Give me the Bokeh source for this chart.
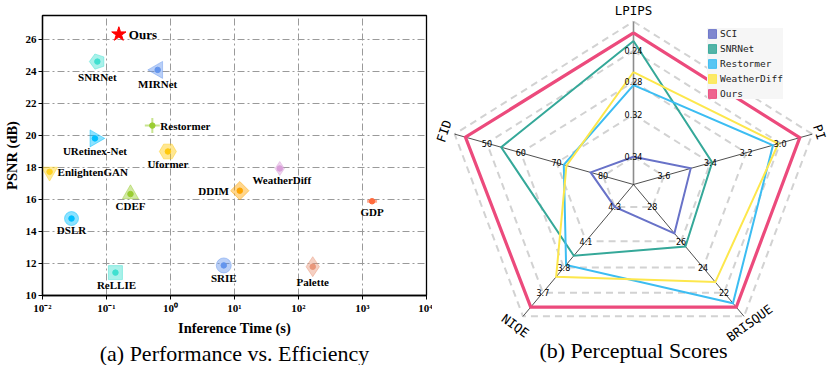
import math
import numpy as np
from bokeh.plotting import figure
from bokeh.layouts import row, column
from bokeh.models import Range1d, FixedTicker, Legend, LegendItem, ColumnDataSource, Title
from bokeh.core.properties import value
from bokeh.embed import file_html
from bokeh.resources import INLINE

# ---------------- data: (a) Performance vs. Efficiency ----------------
methods = ["Ours", "SNRNet", "MIRNet", "Restormer", "URetinex-Net", "Uformer",
           "EnlightenGAN", "WeatherDiff", "DDIM", "CDEF", "GDP", "DSLR",
           "ReLLIE", "SRIE", "Palette"]
infer_time = [0.156, 0.072, 0.63, 0.52, 0.066, 0.91,
              0.0129, 51.0, 12.1, 0.237, 1410.0, 0.0284,
              0.138, 6.8, 167.0]
psnr = [26.33, 24.62, 24.1, 20.62, 19.82, 19.0,
        17.73, 17.94, 16.55, 16.34, 15.89, 14.81,
        11.43, 11.88, 11.8]
x_ticks = [1e-2, 1e-1, 1e0, 1e1, 1e2, 1e3, 1e4]
x_tick_labels = ["10\u207b\u00b2", "10\u207b\u00b9", "10\u2070", "10\u00b9", "10\u00b2", "10\u00b3", "10\u2074"]
y_ticks = [10, 12, 14, 16, 18, 20, 22, 24, 26]

# ---------------- data: (b) Perceptual Scores ----------------
metrics = ["LPIPS", "PI", "BRISQUE", "NIQE", "FID"]
ring_levels = [0.17, 0.43, 0.63, 0.82, 1.0]
lpips_ticks = ["0.34", "0.32", "0.28", "0.24"]
pi_ticks = ["3.6", "3.4", "3.2", "3.0"]
brisque_ticks = ["28", "26", "24", "22"]
niqe_ticks = ["4.3", "4.1", "3.8", "3.7"]
fid_ticks = ["80", "70", "60", "50"]
radar_methods = ["SCI", "SNRNet", "Restormer", "WeatherDiff", "Ours"]
# normalized scores (radius, outer ring = 1) on LPIPS, PI, BRISQUE, NIQE, FID
sci_scores = [0.17, 0.32, 0.37, 0.17, 0.24]
snrnet_scores = [0.88, 0.44, 0.47, 0.54, 0.74]
restormer_scores = [0.61, 0.78, 0.90, 0.61, 0.39]
weatherdiff_scores = [0.69, 0.81, 0.74, 0.70, 0.375]
ours_scores = [0.93, 0.93, 0.93, 0.93, 0.94]

# ================= panel (a) =================
SERIF = "Liberation Serif"
p1 = figure(width=432, height=365, x_axis_type="log",
            x_range=Range1d(1e-2, 1e4), y_range=Range1d(10, 27.5),
            output_backend="svg", toolbar_location=None,
            min_border_left=42, min_border_right=6, min_border_top=15, min_border_bottom=65)
p1.background_fill_color = "white"
p1.outline_line_color = "black"
p1.outline_line_width = 1.3
p1.outline_line_alpha = 1

p1.xaxis.ticker = FixedTicker(ticks=x_ticks)
p1.xaxis.major_label_overrides = {float(t): s for t, s in zip(x_ticks, x_tick_labels)}
p1.yaxis.ticker = FixedTicker(ticks=y_ticks)
for ax in (p1.xaxis, p1.yaxis):
    ax.minor_tick_line_color = None
    ax.major_tick_out = 4
    ax.major_tick_in = 0
    ax.major_tick_line_color = "black"
    ax.axis_line_color = "black"
    ax.axis_line_width = 1.3
    ax.major_label_text_font = SERIF
    ax.major_label_text_font_style = "bold"
    ax.major_label_text_font_size = "11px"
    ax.major_label_text_color = "black"
    ax.axis_label_text_font = SERIF
    ax.axis_label_text_font_style = "bold"
    ax.axis_label_text_font_size = "14.5px"
    ax.axis_label_text_color = "black"
    ax.axis_label_standoff = 3
    ax.major_label_standoff = 2
p1.xaxis.axis_label = "Inference Time (s)"
p1.yaxis.axis_label = "PSNR (dB)"
p1.grid.grid_line_color = "#9a9a9a"
p1.grid.grid_line_dash = "7 3 2 3"
p1.grid.grid_line_width = 1

marker_style = {
    "Ours": ("star", 15, "red", 0),
    "SNRNet": ("pentagon", 8, "#40E0D0", 0),
    "MIRNet": ("triangle", 17, "#6495ED", math.pi / 2),
    "Restormer": ("cross", 15, "#9ACD32", 0),
    "URetinex-Net": ("triangle", 17, "#00BFFF", -math.pi / 2),
    "Uformer": ("hex", 17, "#FFC90E", 0),
    "EnlightenGAN": ("inverted_triangle", 16, "#FFD21F", 0),
    "WeatherDiff": ("diamond", 14, "#DA9FDA", 0),
    "DDIM": ("square", 13, "#FFA500", math.pi / 4),
    "CDEF": ("triangle", 16, "#9ACD32", 0),
    "GDP": ("dash", 10, "#FF6A3D", 0),
    "DSLR": ("circle", 14, "#00BFFF", 0),
    "ReLLIE": ("square", 14, "#40E0D0", 0),
    "SRIE": ("circle", 15, "#6495ED", 0),
    "Palette": ("diamond", 20, "#E9967A", 0),
}
for name, t, v in zip(methods, infer_time, psnr):
    mk, sz, col, ang = marker_style[name]
    if name == "Ours":
        p1.scatter([t], [v], marker="star", size=sz, fill_color=col, line_color=col)
        continue
    if mk == "pentagon":
        done = False
        if hasattr(p1, "ngon"):
            try:
                p1.ngon(x=[t], y=[v], radius=sz, radius_units="screen", n=5, angle=math.pi / 2,
                        fill_color=col, fill_alpha=0.45, line_color=col, line_alpha=0.45)
                done = True
            except Exception:
                done = False
        if not done:
            p1.scatter([t], [v], marker="hex", size=16, fill_color=col, fill_alpha=0.45,
                       line_color=col, line_alpha=0.45)
    elif mk in ("cross", "dash"):
        p1.scatter([t], [v], marker=mk, size=sz, line_color=col, line_alpha=0.55,
                   line_width=2 if mk == "cross" else 3, angle=ang)
    else:
        p1.scatter([t], [v], marker=mk, size=sz, angle=ang, fill_color=col, fill_alpha=0.45,
                   line_color=col, line_alpha=0.45)
    p1.scatter([t], [v], marker="circle", size=5.5, fill_color=col, line_color=col)

# label placement (screen offsets)
placement = {
    "Ours": ("right", 10, 0), "SNRNet": ("below", 0, 15), "MIRNet": ("below", 0, 14),
    "Restormer": ("right", 8, 0), "URetinex-Net": ("below", 0, 13), "Uformer": ("below", 0, 12),
    "EnlightenGAN": ("right", 8, 0), "WeatherDiff": ("below", 2, 12), "DDIM": ("left", -11, 0),
    "CDEF": ("below", 0, 12), "GDP": ("below", 0, 11), "DSLR": ("below", 0, 11),
    "ReLLIE": ("below", 1, 12), "SRIE": ("below", 0, 13), "Palette": ("below", 0, 15),
}
groups = {}
for name, t, v in zip(methods, infer_time, psnr):
    kind, dx, dy = placement[name]
    big = name == "Ours"
    g = groups.setdefault((kind, big), dict(x=[], y=[], text=[], dx=[], dy=[]))
    g["x"].append(t); g["y"].append(v); g["text"].append(name); g["dx"].append(dx); g["dy"].append(dy)
align_of = {"right": "left", "left": "right", "below": "center"}
for (kind, big), g in groups.items():
    src = ColumnDataSource(g)
    p1.text(x="x", y="y", text="text", source=src, x_offset="dx", y_offset="dy",
            text_align=align_of[kind], text_baseline="middle",
            text_font=value(SERIF), text_font_style="bold",
            text_font_size="13px" if big else "11px", text_color="black")

p1.add_layout(Title(text="(a) Performance vs. Efficiency", align="center",
                    text_font=SERIF, text_font_size="22px", text_font_style="normal",
                    text_color="black", standoff=0, offset=0), "below")

# ================= panel (b) =================
W2, H2 = 399, 365
RX, RY = 188.0, 163.0
CXP, CYP = 201.0, 184.0
p2 = figure(width=W2, height=H2, x_range=Range1d(-CXP / RX, (W2 - CXP) / RX),
            y_range=Range1d(-(H2 - CYP) / RY, CYP / RY),
            output_backend="svg", toolbar_location=None, min_border=0,
            x_axis_location=None, y_axis_location=None)
p2.grid.visible = False
p2.outline_line_color = None

theta = [math.radians(a) for a in (90, 18, -54, -126, 162)]
cs = [math.cos(a) for a in theta]
sn = [math.sin(a) for a in theta]

for lvl in ring_levels:
    xs = [lvl * c for c in cs] + [lvl * cs[0]]
    ys = [lvl * s for s in sn] + [lvl * sn[0]]
    p2.line(xs, ys, line_color="#d2d2d2", line_width=2, line_dash="7 5")

for i, m in enumerate(metrics):
    if m == "LPIPS":
        p2.line([0, cs[i]], [0, sn[i]], line_color="#8c8c8c", line_width=1.6)
    else:
        p2.line([0, cs[i]], [0, sn[i]], line_color="#222222", line_width=0.8)

radar_colors = ["#6872C8", "#35A899", "#3CBDF2", "#FDE74C", "#EC4A7C"]
radar_widths = [2, 2, 2, 2, 3.2]
all_scores = [sci_scores, snrnet_scores, restormer_scores, weatherdiff_scores, ours_scores]
for sc, col, lw in zip(all_scores, radar_colors, radar_widths):
    xs = [r * c for r, c in zip(sc, cs)] + [sc[0] * cs[0]]
    ys = [r * s for r, s in zip(sc, sn)] + [sc[0] * sn[0]]
    p2.line(xs, ys, line_color=col, line_width=lw, line_join="miter")

tick_sets = [lpips_ticks, pi_ticks, brisque_ticks, niqe_ticks, fid_ticks]
tx, ty, tt = [], [], []
for i, labs in enumerate(tick_sets):
    for lvl, s in zip(ring_levels, labs):
        tx.append(lvl * cs[i]); ty.append(lvl * sn[i]); tt.append(s)
p2.text(x=tx, y=ty, text=tt, text_align="center", text_baseline="middle",
        text_font=value("DejaVu Sans"), text_font_size="8px", text_color="black")

title_r = [1.067, 1.04, 1.05, 1.07, 1.06]
ang = []
for a in (90, 18, -54, -126, 162):
    rdeg = a - 90
    if rdeg < -90:
        rdeg += 180
    if rdeg > 90:
        rdeg -= 180
    ang.append(math.radians(rdeg))
p2.text(x=[r * c for r, c in zip(title_r, cs)], y=[r * s for r, s in zip(title_r, sn)],
        text=metrics, angle=ang, text_align="center", text_baseline="middle",
        text_font=value("DejaVu Sans Mono"), text_font_size="12.5px", text_color="black")

items = []
for name, col in zip(radar_methods, radar_colors):
    r = p2.quad(left=[np.nan], right=[np.nan], top=[np.nan], bottom=[np.nan],
                fill_color=col, fill_alpha=0.85, line_color=col, line_alpha=0.9)
    items.append(LegendItem(label=name, renderers=[r]))
legend = Legend(items=items, location=(275, 266), orientation="vertical",
                background_fill_color="#f6f6f6", background_fill_alpha=1,
                border_line_color=None, padding=3, margin=0, spacing=4,
                glyph_width=10, glyph_height=11, label_height=11, label_standoff=3,
                label_text_font="DejaVu Sans Mono", label_text_font_size="9.5px",
                label_text_color="#222222")
p2.add_layout(legend)

p2.text(x=[0], y=[(CYP - 350) / RY], text=["(b) Perceptual Scores"],
        text_align="center", text_baseline="middle",
        text_font=value(SERIF), text_font_size="22px", text_color="black")

layout = row(p1, column(p2), spacing=0)
with open("out.html", "w") as f:
    f.write(file_html(layout, INLINE))
